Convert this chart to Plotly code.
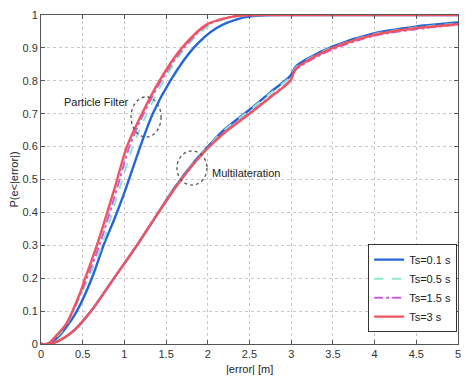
import plotly.graph_objects as go

# ---------------- data ----------------
series_names = ["Ts=0.1 s", "Ts=0.5 s", "Ts=1.5 s", "Ts=3 s"]

# Particle filter CDFs
pf_x_01 = [0, 0.08, 0.2, 0.3, 0.43, 0.61, 0.75, 0.88, 1.0, 1.19, 1.34, 1.55, 1.83, 2.1, 2.39, 2.6, 3.0, 5.0]
pf_y_01 = [0, 0, 0.02, 0.05, 0.1, 0.2, 0.3, 0.38, 0.46, 0.6, 0.7, 0.8, 0.9, 0.96, 0.99, 0.998, 1.0, 1.0]

pf_x_05 = [0, 0.08, 0.2, 0.3, 0.44, 0.57, 0.73, 0.95, 1.1, 1.27, 1.47, 1.73, 2.03, 2.33, 2.6, 3.0, 5.0]
pf_y_05 = [0, 0, 0.025, 0.055, 0.13, 0.2, 0.3, 0.48, 0.6, 0.7, 0.8, 0.9, 0.97, 0.995, 1.0, 1.0, 1.0]

pf_x_15 = [0, 0.08, 0.2, 0.3, 0.47, 0.55, 0.7, 0.92, 1.06, 1.23, 1.44, 1.71, 2.0, 2.3, 2.6, 3.0, 5.0]
pf_y_15 = [0, 0, 0.03, 0.06, 0.15, 0.2, 0.3, 0.48, 0.6, 0.7, 0.8, 0.9, 0.97, 0.995, 1.0, 1.0, 1.0]

pf_x_3 = [0, 0.08, 0.2, 0.3, 0.46, 0.53, 0.67, 0.89, 1.03, 1.21, 1.42, 1.69, 1.98, 2.3, 2.6, 3.0, 5.0]
pf_y_3 = [0, 0, 0.03, 0.06, 0.15, 0.2, 0.3, 0.48, 0.6, 0.7, 0.8, 0.9, 0.97, 0.995, 1.0, 1.0, 1.0]

# Multilateration CDFs
ml_x = [0, 0.08, 0.2, 0.4, 0.6, 0.87, 1.15, 1.37, 1.61, 1.8, 2.0, 2.2, 2.5, 2.75, 2.99, 3.05, 3.2, 3.5, 4.0, 4.5, 5.0]
ml_y_01 = [0, 0, 0.008, 0.042, 0.1, 0.198, 0.3, 0.385, 0.478, 0.542, 0.600, 0.652, 0.712, 0.765, 0.815, 0.842, 0.868, 0.905, 0.945, 0.965, 0.977]
ml_y_05 = [0, 0, 0.008, 0.042, 0.1, 0.198, 0.3, 0.385, 0.477, 0.541, 0.599, 0.650, 0.710, 0.762, 0.812, 0.838, 0.865, 0.902, 0.942, 0.962, 0.974]
ml_y_15 = [0, 0, 0.008, 0.042, 0.1, 0.198, 0.3, 0.385, 0.475, 0.539, 0.596, 0.644, 0.702, 0.752, 0.802, 0.832, 0.858, 0.896, 0.937, 0.957, 0.971]
ml_y_3 = [0, 0, 0.008, 0.042, 0.1, 0.198, 0.3, 0.385, 0.475, 0.538, 0.595, 0.642, 0.700, 0.750, 0.800, 0.835, 0.862, 0.900, 0.940, 0.960, 0.972]

x_ticks = [0, 0.5, 1, 1.5, 2, 2.5, 3, 3.5, 4, 4.5, 5]
y_ticks = [0, 0.1, 0.2, 0.3, 0.4, 0.5, 0.6, 0.7, 0.8, 0.9, 1]

# annotation circles (center x, center y, radius x, radius y)
pf_circle = (1.26, 0.69, 0.18, 0.061)
ml_circle = (1.81, 0.535, 0.18, 0.052)

# ---------------- styles ----------------
colors = ["#2466d8", "#8fe6cf", "#c75fd8", "#ee5560"]
dashes = ["solid", "dash", "dashdot", "solid"]
widths = [2.4, 2.0, 2.0, 2.4]
FONT = "Liberation Sans, Arial"

pf_sets = [(pf_x_01, pf_y_01), (pf_x_05, pf_y_05), (pf_x_15, pf_y_15), (pf_x_3, pf_y_3)]
ml_sets = [ml_y_01, ml_y_05, ml_y_15, ml_y_3]

fig = go.Figure()
for i, name in enumerate(series_names):
    px_, py_ = pf_sets[i]
    fig.add_trace(go.Scatter(
        x=px_, y=py_, mode="lines", name=name, legendgroup=name,
        line=dict(color=colors[i], dash=dashes[i], width=widths[i], shape="spline", smoothing=0.9),
        showlegend=True))
for i, name in enumerate(series_names):
    fig.add_trace(go.Scatter(
        x=ml_x, y=ml_sets[i], mode="lines", name=name, legendgroup=name,
        line=dict(color=colors[i], dash=dashes[i], width=widths[i], shape="spline", smoothing=0.9),
        showlegend=False))

for (cx, cy, rx, ry) in (pf_circle, ml_circle):
    fig.add_shape(type="circle", xref="x", yref="y",
                  x0=cx - rx, x1=cx + rx, y0=cy - ry, y1=cy + ry,
                  line=dict(color="#555555", width=1.3, dash="dot"))

fig.add_annotation(x=pf_circle[0] - pf_circle[2], y=pf_circle[1] + 0.045, text="Particle Filter",
                   showarrow=False, xanchor="right", yanchor="middle",
                   font=dict(family=FONT, size=11, color="#222222"))
fig.add_annotation(x=ml_circle[0] + ml_circle[2] + 0.04, y=ml_circle[1] - 0.015, text="Multilateration",
                   showarrow=False, xanchor="left", yanchor="middle",
                   font=dict(family=FONT, size=11, color="#222222"))

axis_common = dict(
    showgrid=True, gridcolor="#c8c8c8", griddash="dot", gridwidth=1,
    zeroline=False, showline=True, linecolor="#555555", linewidth=1, mirror="ticks",
    ticks="inside", ticklen=4, tickcolor="#555555", automargin=False,
    tickfont=dict(family=FONT, size=11, color="#333333"),
)
fig.update_xaxes(range=[0, 5], tickvals=x_ticks, ticktext=[f"{v:g}" for v in x_ticks],
                 **axis_common)
fig.update_yaxes(range=[0, 1], tickvals=y_ticks, ticktext=[f"{v:g}" for v in y_ticks],
                 title=dict(text="P(e<|error|)", standoff=4,
                            font=dict(family=FONT, size=11, color="#222222")),
                 **axis_common)

# x-axis title as paper annotation below the tick labels
fig.add_annotation(x=0.5, y=0, xref="paper", yref="paper", yshift=-17, text="|error| [m]",
                   showarrow=False, xanchor="center", yanchor="top",
                   font=dict(family=FONT, size=11, color="#222222"))

# page body has an 8px default margin, so the figure is shrunk by 8px
fig.update_layout(
    width=466, height=368,
    margin=dict(l=33, r=16, t=7, b=32),
    paper_bgcolor="white", plot_bgcolor="white",
    legend=dict(x=0.998, y=0.036, xanchor="right", yanchor="bottom",
                bgcolor="white", bordercolor="#333333", borderwidth=1,
                font=dict(family=FONT, size=11, color="#222222"),
                tracegroupgap=0, itemwidth=30),
)

fig.write_html("out.html")
